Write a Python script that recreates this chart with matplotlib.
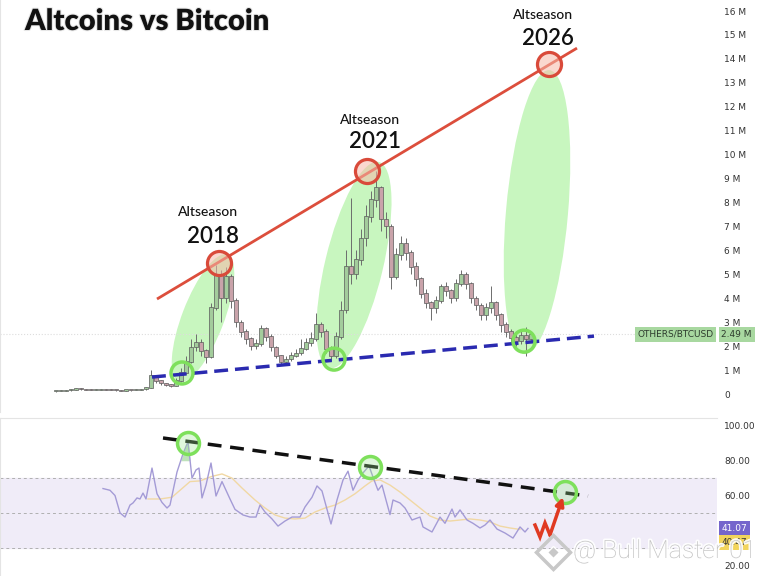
import numpy as np
import matplotlib.pyplot as plt
import matplotlib.patheffects as pe
from matplotlib.patches import Ellipse
from matplotlib import transforms

# ---- price candles (OTHERS/BTCUSD, millions) ----
first_open = 0.11
closes = [0.12, 0.13, 0.15, 0.17, 0.22, 0.20, 0.19, 0.18, 0.18, 0.20,
          0.19, 0.18, 0.15, 0.14, 0.17, 0.16, 0.18, 0.20, 0.26, 0.75,
          0.55, 0.45, 0.38, 0.35, 0.55, 0.90, 1.35, 1.95, 2.15, 1.80,
          1.55, 3.60, 5.00, 4.00, 4.90, 3.90, 3.00, 2.60, 2.30, 2.00,
          2.10, 2.75, 2.40, 1.95, 1.60, 1.35, 1.45, 1.60, 1.70, 1.90,
          2.15, 2.30, 2.90, 2.60, 1.90, 1.60, 2.40, 3.50, 5.30, 5.00,
          5.60, 6.50, 7.40, 8.10, 8.60, 7.30, 7.00, 4.90, 5.80, 6.30,
          5.90, 5.30, 4.80, 4.20, 3.80, 3.60, 3.90, 4.50, 4.30, 4.00,
          4.60, 5.00, 4.60, 4.00, 3.70, 3.30, 3.60, 3.80, 3.30, 2.90,
          2.60, 2.35, 2.20, 2.45, 2.30, 2.49]
highs = [0.14, 0.15, 0.17, 0.20, 0.27, 0.24, 0.21, 0.20, 0.20, 0.22,
         0.21, 0.20, 0.19, 0.16, 0.19, 0.19, 0.20, 0.22, 0.30, 1.00,
         0.80, 0.60, 0.48, 0.42, 0.65, 1.10, 1.60, 2.30, 2.50, 2.30,
         1.90, 3.80, 5.40, 5.20, 5.30, 5.00, 4.00, 3.10, 2.70, 2.40,
         2.30, 2.90, 2.80, 2.50, 2.00, 1.65, 1.60, 1.75, 1.90, 2.30,
         2.35, 2.60, 3.40, 3.00, 2.70, 2.00, 2.60, 3.90, 6.00, 8.20,
         6.00, 6.90, 7.90, 8.50, 9.30, 8.70, 7.60, 7.10, 6.10, 6.60,
         6.50, 6.00, 5.50, 4.90, 4.40, 3.90, 4.10, 4.60, 4.70, 4.40,
         4.80, 5.20, 5.10, 4.70, 4.10, 3.80, 3.80, 4.50, 3.90, 3.40,
         3.00, 2.70, 2.50, 2.70, 2.80, 2.60]
lows = [0.10, 0.11, 0.12, 0.14, 0.16, 0.18, 0.17, 0.16, 0.16, 0.17,
        0.17, 0.16, 0.13, 0.12, 0.13, 0.14, 0.15, 0.17, 0.18, 0.24,
        0.45, 0.38, 0.32, 0.30, 0.33, 0.50, 0.85, 1.30, 1.80, 1.60,
        1.30, 1.50, 3.50, 3.00, 3.80, 3.60, 2.80, 2.40, 2.10, 1.85,
        1.90, 2.00, 2.20, 1.80, 1.50, 1.25, 1.25, 1.40, 1.55, 1.65,
        1.85, 2.00, 2.20, 2.40, 1.70, 1.40, 1.50, 2.30, 3.40, 4.60,
        4.80, 5.40, 6.20, 7.20, 7.80, 6.80, 6.50, 4.40, 4.80, 5.60,
        5.60, 5.00, 4.50, 4.00, 3.60, 3.10, 3.40, 3.80, 4.10, 3.80,
        3.90, 4.50, 4.40, 3.80, 3.50, 3.10, 3.10, 3.40, 3.10, 2.60,
        2.40, 2.10, 2.00, 2.10, 1.60, 2.25]
last_price = 2.49

# ---- RSI and its moving average (x = candle index) ----
rsi_x = [9.4, 10.8, 11.8, 12.8, 13.8, 14.8, 15.4, 16.2, 16.8, 17.4,
         18.0, 19.2, 20.2, 21.2, 22.2, 22.8, 24.2, 25.4, 26.4, 27.2,
         28.0, 28.6, 29.2, 30.0, 31.0, 32.0, 33.2, 34.8, 35.8, 37.4,
         38.8, 40.0, 40.8, 41.8, 43.2, 44.4, 45.8, 47.2, 48.8, 49.8,
         51.2, 52.2, 53.2, 55.0, 56.2, 57.4, 58.4, 59.4, 60.4, 61.4,
         62.6, 63.4, 64.4, 65.2, 66.0, 66.8, 67.4, 68.8, 69.8, 71.2,
         72.8, 73.4, 75.2, 76.8, 77.8, 79.2, 79.8, 80.8, 82.2, 83.4,
         84.8, 85.8, 86.8, 88.2, 89.8, 91.4, 92.8, 93.8, 94.4]
rsi_vals = [64, 63, 60, 50, 47.6, 54.5, 55.7, 58.6, 58, 61.4,
            58, 75.8, 61, 56, 52.8, 54.5, 73.5, 84, 91, 70,
            74.7, 75.8, 58.6, 66, 78.7, 59.7, 68, 58, 52, 48.8,
            47.6, 47.6, 54.5, 50.5, 46.5, 42.4, 45.3, 47.6, 47.6, 53.4,
            59, 65.5, 62.6, 43.6, 57.4, 68.9, 74, 63, 68.9, 73,
            77, 70.6, 63, 66, 57.4, 49, 57.4, 55.7, 52.8, 45.9,
            47.6, 41.9, 39, 47.6, 44, 52.2, 47.6, 51.7, 45.9, 44,
            41.3, 43, 45.9, 40.7, 38.4, 35.5, 41.9, 39, 41.07]
ma_x = [18.4, 20.8, 23.2, 24.8, 26.8, 28.8, 31.2, 33.2, 35.2, 37.2,
        39.8, 41.8, 43.8, 45.8, 47.8, 49.8, 51.8, 53.8, 55.8, 57.8,
        59.8, 61.8, 63.2, 64.8, 66.8, 68.8, 70.8, 72.8, 74.8, 76.8,
        78.8, 80.8, 82.8, 84.8, 86.8, 88.8, 90.8, 92.8]
ma_vals = [58, 58, 59, 63, 68, 68.4, 71, 72.4, 70, 64.3,
           57.4, 52.8, 48.8, 47, 46.5, 47, 50.5, 52.8, 54.5, 57.4,
           61, 65.5, 68.4, 69, 66, 62, 57.4, 52.8, 48.2, 45.9,
           45.3, 45.9, 46.5, 45.9, 44.8, 42.4, 41.3, 40.47]
last_rsi = 41.07
last_ma = 40.47

# ---- drawn annotations (candle index, value) ----
top_line = ([20.2, 104.2], [3.97, 14.45])
base_line = ([19.2, 107.6], [0.71, 2.42])
peak_idx = [32.6, 62.2, 98.6]
peak_val = [5.47, 9.31, 13.78]
base_idx = [25.2, 55.6, 93.6]
base_val = [0.88, 1.46, 2.21]
season_years = ['2018', '2021', '2026']
season_word_pos = [(30.4, 7.6), (62.8, 11.45), (97.4, 15.83)]
season_year_pos = [(31.4, 6.6), (63.8, 10.53), (98.4, 14.87)]
# ellipse: centre idx, centre price, length (in), width (in), angle
pumps = [(29.4, 3.17, 1.36, 0.42, 69),
         (59.6, 5.39, 2.12, 0.58, 76.5),
         (96.2, 7.60, 2.85, 0.62, 85)]
rsi_trend = ([21.4, 106.4], [93.1, 59.7])
rsi_mark_idx = [26.4, 62.8, 101.8]
rsi_mark_val = [90.2, 76.4, 62.0]
zigzag_idx = [95.8, 96.8, 97.8, 98.8, 101.4]
zigzag_val = [43, 36.1, 44.2, 37.3, 59.1]

price_ticks = list(range(0, 17))
price_labels = ['0'] + ['%d M' % k for k in range(1, 17)]
rsi_ticks = [20, 60, 80, 100]

n = len(closes)
idx = np.arange(n)
opens = [first_open] + closes[:-1]

fig = plt.figure(figsize=(7.68, 5.76), dpi=100)
ax = fig.add_axes([0.0, 0.2847, 0.9336, 0.7153])
ax2 = fig.add_axes([0.0, 0.0, 0.9336, 0.2743])

xlim = (-11.2, 132.2)

# main panel
ax.set_xlim(*xlim)
ax.set_ylim(-0.75, 16.46)
for s in ax.spines.values():
    s.set_visible(False)
ax.spines['left'].set_visible(True)
ax.spines['left'].set_color('#e4e4e4')
ax.set_xticks([])
ax.yaxis.tick_right()
ax.set_yticks(price_ticks)
ax.set_yticklabels(price_labels)
ax.tick_params(axis='y', length=0, pad=5, labelsize=6.5, labelcolor='#333333')

for cx, cy, L, W, ang in pumps:
    tr = fig.dpi_scale_trans + transforms.ScaledTranslation(cx, cy, ax.transData)
    ax.add_patch(Ellipse((0, 0), L, W, angle=ang, transform=tr,
                         facecolor='#c2f5b8', edgecolor='none', alpha=0.9, zorder=1))

ax.axhline(last_price, xmin=0, xmax=0.9, color='#dddddd', lw=0.8, ls=':', zorder=1)

up = [c >= o for o, c in zip(opens, closes)]
body_col = ['#a3cc9c' if u else '#c9a3aa' for u in up]
ax.vlines(idx, lows, highs, color='#6d6d6d', lw=0.7, zorder=2)
ax.bar(idx, [abs(c - o) + 0.03 for o, c in zip(opens, closes)],
       bottom=[min(o, c) for o, c in zip(opens, closes)], width=0.7,
       color=body_col, edgecolor='#5a5a5a', linewidth=0.5, zorder=3)

ax.plot(top_line[0], top_line[1], color='#dc4e3c', lw=2, zorder=4, solid_capstyle='butt')
ax.plot(base_line[0], base_line[1], color='#2a2ab0', lw=2.5, dashes=(4, 2), zorder=4)
ax.scatter(peak_idx, peak_val, s=300, facecolor=(0.97, 0.72, 0.66, 0.55),
           edgecolor='#d94a3a', linewidth=2.3, zorder=5)
ax.scatter(base_idx, base_val, s=250, facecolor='none',
           edgecolor='#7ee05c', linewidth=2.5, zorder=5)

for word_xy, year_xy, yr in zip(season_word_pos, season_year_pos, season_years):
    ax.text(*word_xy, 'Altseason', ha='center', va='center', fontsize=10,
            family='Lato', fontweight='medium', color='#111111', zorder=6)
    ax.text(*year_xy, yr, ha='center', va='center', fontsize=16,
            family='Lato', fontweight='semibold', color='#111111', zorder=6)

bt = transforms.blended_transform_factory(ax.transAxes, ax.transData)
ax.text(0.995, last_price, 'OTHERS/BTCUSD', transform=bt, ha='right', va='center',
        fontsize=6.5, color='#2d3b2d', zorder=7,
        bbox=dict(boxstyle='square,pad=0.3', fc='#a8d8a0', ec='none'))
ax.text(1.006, last_price, '2.49 M', transform=bt, ha='left', va='center',
        fontsize=6.5, color='#2d3b2d', zorder=7, clip_on=False,
        bbox=dict(boxstyle='square,pad=0.3', fc='#a8d8a0', ec='none'))

fig.text(25 / 768, 1 - 22 / 576, 'Altcoins vs Bitcoin', ha='left', va='center',
         fontsize=21, family='Lato', fontweight='heavy', color='#111111',
         path_effects=[pe.withStroke(linewidth=1.5, foreground='#e6e6e6')])

# RSI panel
ax2.set_xlim(*xlim)
ax2.set_ylim(13.67, 104.6)
for s in ax2.spines.values():
    s.set_visible(False)
ax2.spines['top'].set_visible(True)
ax2.spines['top'].set_color('#e4e4e4')
ax2.spines['left'].set_visible(True)
ax2.spines['left'].set_color('#e4e4e4')
ax2.set_xticks([])
ax2.yaxis.tick_right()
ax2.set_yticks(rsi_ticks)
ax2.set_yticklabels(['%.2f' % t for t in rsi_ticks])
ax2.tick_params(axis='y', length=0, pad=5, labelsize=6.5, labelcolor='#333333')

ax2.axhspan(30, 70, color='#f0ecf8', zorder=0)
for lvl in (70, 50, 30):
    ax2.axhline(lvl, color='#b0b0b0', lw=0.7, dashes=(3, 3), zorder=1)

rx = np.array(rsi_x)
rv = np.array(rsi_vals)
ax2.fill_between(rx, 80, rv, where=rv > 80, interpolate=True,
                 color='#6fbf6a', alpha=0.45, lw=0, zorder=2)
ax2.plot(ma_x, ma_vals, color='#f1d8a4', lw=1.0, zorder=2)
ax2.plot(rsi_x, rsi_vals, color='#a49bd6', lw=1.0, zorder=3)

ax2.plot(rsi_trend[0], rsi_trend[1], color='#111111', lw=2.5, dashes=(4, 2.5), zorder=4)
ax2.scatter(rsi_mark_idx, rsi_mark_val, s=250, facecolor=(0.6, 0.9, 0.55, 0.3),
            edgecolor='#7ee05c', linewidth=2.5, zorder=5)

ax2.plot(zigzag_idx[:-1], zigzag_val[:-1], color='#e03a22', lw=2.5, zorder=6,
         solid_joinstyle='miter')
ax2.annotate('', xy=(zigzag_idx[-1], zigzag_val[-1]), xytext=(zigzag_idx[-2], zigzag_val[-2]),
             arrowprops=dict(arrowstyle='-|>', color='#e03a22', lw=2.5, mutation_scale=12,
                             shrinkA=0, shrinkB=0), zorder=6)

bt2 = transforms.blended_transform_factory(ax2.transAxes, ax2.transData)
ax2.text(1.006, last_rsi, '%.2f' % last_rsi, transform=bt2, ha='left', va='center',
         fontsize=6.5, color='white', clip_on=False, zorder=7,
         bbox=dict(boxstyle='square,pad=0.3', fc='#7565cc', ec='none'))
ax2.annotate('%.2f' % last_ma, xy=(1.006, last_ma), xycoords=bt2, xytext=(0, -9.5),
             textcoords='offset points', ha='left', va='center', fontsize=6.5,
             color='#333333', annotation_clip=False, zorder=7,
             bbox=dict(boxstyle='square,pad=0.3', fc='#f2d45c', ec='none'))

# watermark
fig.text(573 / 768, 1 - 551 / 576, '@ Bull Master 01', ha='left', va='center',
         fontsize=18, family='Roboto', fontweight='light', color='#bcbcbc', alpha=0.9,
         path_effects=[pe.withStroke(linewidth=2.5, foreground='white')])
fig.add_artist(plt.Line2D([553 / 768], [1 - 552 / 576], marker='D', ms=17,
                          mfc='none', mec='#c8c8c8', mew=2.5, transform=fig.transFigure))
fig.add_artist(plt.Line2D([553 / 768], [1 - 552 / 576], marker='D', ms=6,
                          mfc='#c8c8c8', mec='white', mew=1, transform=fig.transFigure))

fig.savefig('out.png', dpi=100)
